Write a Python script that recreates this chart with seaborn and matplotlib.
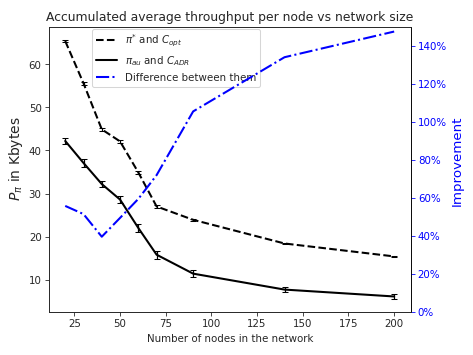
import numpy as np
import pandas as pd
import matplotlib
matplotlib.use("Agg")
import matplotlib.pyplot as plt
import seaborn as sns
from matplotlib.ticker import PercentFormatter

nodes = [20, 30, 40, 50, 60, 70, 90, 140, 200]
opt = [65.4, 55.6, 44.9, 42.1, 34.9, 27.0, 23.9, 18.4, 15.4]
opt_err = [0.3, 0.3, 0.3, 0.4, 0.4, 0.3, 0.3, 0.2, 0.2]
adr = [42.2, 37.1, 32.2, 28.6, 22.0, 15.8, 11.4, 7.7, 6.1]
adr_err = [0.7, 0.9, 0.8, 0.9, 0.9, 0.9, 0.8, 0.6, 0.6]
diff = [55.8, 51.5, 39.6, 49.5, 59.5, 72.0, 105.5, 134.0, 147.5]

df = pd.DataFrame({"nodes": nodes, "opt": opt, "adr": adr, "diff": diff})

sns.set_style("ticks")
plt.rcParams['font.family'] = ['DejaVu Sans']

fig, ax = plt.subplots(figsize=(6.4, 4.8), dpi=74)
fig.subplots_adjust(left=0.103, right=0.867, top=0.924, bottom=0.121)

sns.lineplot(data=df, x="nodes", y="opt", ax=ax, color="black", lw=2,
             linestyle="--", label=r"$\pi^{*}$ and $C_{opt}$")
ax.errorbar(nodes, opt, yerr=opt_err, fmt="none", ecolor="black", capsize=3, elinewidth=1.2)
sns.lineplot(data=df, x="nodes", y="adr", ax=ax, color="black", lw=2,
             label=r"$\pi_{au}$ and $C_{ADR}$")
ax.errorbar(nodes, adr, yerr=adr_err, fmt="none", ecolor="black", capsize=3, elinewidth=1.2)

ax2 = ax.twinx()
sns.lineplot(data=df, x="nodes", y="diff", ax=ax2, color="blue", lw=2,
             linestyle="-.", label="Difference between them")
ax2.set_ylim(0, 150)
ax2.yaxis.set_major_formatter(PercentFormatter(decimals=0))
ax2.tick_params(axis="y", colors="blue")
ax2.spines["right"].set_color("black")
ax2.set_ylabel("Improvement", color="blue", fontsize=13, y=0.53)

ax.set_xlabel("Number of nodes in the network")
ax.set_ylabel(r"$P_{\pi}$ in Kbytes", fontsize=13.5, y=0.54)
ax.set_title("Accumulated average throughput per node vs network size", fontsize=12)

for a in (ax, ax2):
    for s in a.spines.values():
        s.set_visible(True)

h1, l1 = ax.get_legend_handles_labels()
h2, l2 = ax2.get_legend_handles_labels()
ax2.get_legend().remove()
ax.legend(h1 + h2, l1 + l2, loc="upper left", bbox_to_anchor=(0.105, 1.012), fontsize=10)

fig.savefig("out.png", dpi=74)
